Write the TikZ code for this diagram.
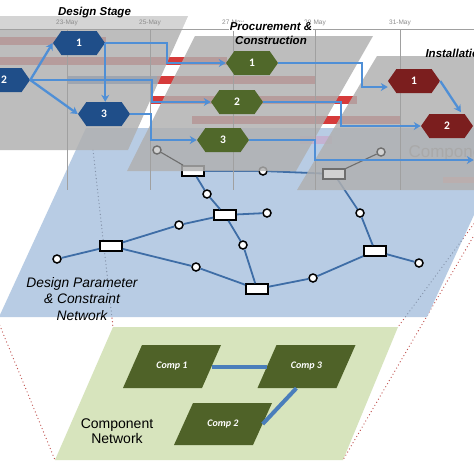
\documentclass[tikz,border=0pt]{standalone}
\usepackage{fontspec}
\setmainfont{Liberation Sans}
\newfontfamily\calfont{Carlito}
\usetikzlibrary{shapes.symbols,arrows.meta,calc}
\definecolor{dsblue}{HTML}{1F4E89}
\definecolor{pcgreen}{HTML}{50682A}
\definecolor{inred}{HTML}{7B1E1E}
\definecolor{arrblue}{HTML}{4F8FD6}
\definecolor{netblue}{HTML}{3E6DA6}
\definecolor{planeblue}{HTML}{B8CCE4}
\definecolor{planegreen}{HTML}{D7E4BD}
\definecolor{compgreen}{HTML}{4F6228}
\definecolor{compline}{HTML}{4A7EBB}
\definecolor{dotred}{HTML}{C0504D}
\definecolor{dotgray}{HTML}{8391A8}
\definecolor{barred}{HTML}{D63B3B}
\definecolor{barblue}{HTML}{4A72B0}
\definecolor{barlav}{HTML}{C4B2D2}
\definecolor{planegray}{HTML}{B0B0B0}
\definecolor{gridgray}{HTML}{A0A0A0}
\definecolor{dategray}{HTML}{8C8C8C}
\definecolor{ghostgray}{HTML}{A9A9A9}
\definecolor{nodegray}{HTML}{6E6E6E}
\definecolor{nodefill}{HTML}{D2D2D2}
\tikzset{
  hexa/.style={shape=signal, signal to=east and west, signal pointer angle=110,
    minimum width=52pt, minimum height=24pt, inner sep=0pt, text=white,
    font=\calfont\bfseries\fontsize{11.5}{12}\selectfont},
  hexd/.style={hexa, fill=dsblue},
  hexp/.style={hexa, fill=pcgreen},
  hexi/.style={hexa, fill=inred},
  flow/.style={draw=arrblue, line width=2.3pt, -{Stealth[length=7pt,width=8pt]}},
  netedge/.style={draw=netblue, line width=1.8pt},
  ghostedge/.style={draw=nodegray, line width=1.1pt},
  netrect/.style={draw=black, line width=1.6pt, fill=white, minimum width=22pt, minimum height=10pt, inner sep=0pt},
  netcirc/.style={circle, draw=black, line width=1.5pt, fill=white, minimum size=8pt, inner sep=0pt},
  ghostrect/.style={draw=nodegray, line width=1.3pt, fill=nodefill, minimum width=22pt, minimum height=10pt, inner sep=0pt},
  ghostcirc/.style={circle, draw=nodegray, line width=1.3pt, fill=nodefill, minimum size=8pt, inner sep=0pt},
  complbl/.style={rectangle, minimum width=79pt, minimum height=43pt, inner sep=0pt, text=white,
    font=\calfont\bfseries\itshape\fontsize{10}{11}\selectfont},
  compfill/.style={fill=compgreen},
  compedge/.style={draw=compline, line width=4pt},
  projdots/.style={draw=dotred, line width=1.3pt, line cap=round, dash pattern=on 0pt off 3.6pt},
  planelabel/.style={font=\bfseries\itshape\fontsize{11.5}{13}\selectfont, anchor=base},
  netlabel/.style={font=\itshape\fontsize{13.8}{15}\selectfont, anchor=base},
  complabel/.style={font=\fontsize{14}{15}\selectfont, anchor=base},
  datelabel/.style={font=\fontsize{6.5}{7}\selectfont, text=dategray},
  grayplane/.style={fill=planegray, opacity=0.83},
}
\begin{document}
\begin{tikzpicture}[x=1pt,y=-1pt]
\useasboundingbox (0,0) rectangle (474,474);
\fill[white] (0,0) rectangle (474,474);

% ---------- component network plane ----------
\fill[planegreen] (55,460) -- (343,460) -- (398,327) -- (113,327) -- cycle;
\fill[compfill] (123,388) -- (202,388) -- (221,345) -- (142,345) -- cycle;
\fill[compfill] (257.5,388) -- (336.5,388) -- (355.5,345) -- (276.5,345) -- cycle;
\fill[compfill] (174,445) -- (253,445) -- (272,403) -- (193,403) -- cycle;
\node[complbl] (comp1) at (172,366.5) {Comp 1};
\node[complbl] (comp3) at (306.5,366.5) {Comp 3};
\node[complbl, minimum height=42pt] (comp2) at (223,424) {Comp 2};
\draw[compedge] (comp1.east) -- (comp3.west);
\draw[compedge] (comp3.245) -- (comp2.east);
\node[complabel] (cnet1) at (117,428) {Component};
\node[complabel] (cnet2) at (117,443) {Network};

% ---------- projection lines ----------
\draw[projdots] (-18,282) -- (55,460);
\draw[projdots] (93,150) -- (113,327);
\draw[projdots] (476,221) -- (398,327);
\draw[projdots] (480,225) -- (343,460);

% ---------- design parameter plane ----------
\fill[planeblue] (-1,317) -- (427,317) -- (514,128) -- (86,128) -- cycle;
\begin{scope}
  \clip (-1,317) -- (427,317) -- (514,128) -- (86,128) -- cycle;
  \draw[projdots, draw=dotgray] (93,150) -- (113,327);
  \draw[projdots, draw=dotgray] (476,221) -- (398,327);
\end{scope}

% network nodes
\node[netrect] (r1) at (193,171) {};
\node[netrect] (r2) at (225,215) {};
\node[netrect] (r3) at (111,246) {};
\node[netrect] (r4) at (257,289) {};
\node[netrect] (r5) at (375,251) {};
\node[netrect] (r6) at (334,174) {};
\node[netcirc] (c1) at (207,194) {};
\node[netcirc] (c2) at (267,213) {};
\node[netcirc] (c3) at (179,225) {};
\node[netcirc] (c4) at (243,245) {};
\node[netcirc] (c5) at (57,259) {};
\node[netcirc] (c6) at (196,267) {};
\node[netcirc] (c7) at (313,278) {};
\node[netcirc] (c8) at (360,213) {};
\node[netcirc] (c9) at (419,263) {};
\node[netcirc] (c10) at (263,171) {};
\node[netcirc] (c11) at (157,150) {};
\node[netcirc] (c12) at (381,152) {};
\draw[netedge] (r1) -- (c1) -- (r2);
\draw[netedge] (r2) -- (c2);
\draw[netedge] (r2) -- (c3) -- (r3);
\draw[netedge] (r2) -- (c4) -- (r4);
\draw[netedge] (r3) -- (c5);
\draw[netedge] (r3) -- (c6) -- (r4);
\draw[netedge] (r4) -- (c7) -- (r5);
\draw[netedge] (r5) -- (c9);
\draw[netedge] (r5) -- (c8) -- (r6);
\draw[netedge] (r1) -- (c10) -- (r6);
\node[netlabel] (dpn1) at (82,287) {Design Parameter};
\node[netlabel] (dpn2) at (82,303) {\& Constraint};
\node[netlabel] (dpn3) at (82,320) {Network};

% ---------- gantt bars (under translucent planes) ----------
\fill[barred] (0,37) rectangle (106,45);
\fill[barred] (0,57) rectangle (227,65);
\fill[barblue] (67,76) rectangle (157,84);
\fill[barred] (157,76) rectangle (315,84);
\fill[barred] (150,96) rectangle (357,104);
\fill[barred] (192,116) rectangle (400,124);
\fill[barlav] (300,136) rectangle (332,144);
\fill[barred!45] (443,177) rectangle (480,183);

% ---------- stage planes ----------
\fill[grayplane] (-5,16) -- (188,16) -- (128,150) -- (-5,150) -- cycle;
\fill[grayplane] (195,36) -- (373,36) -- (296,171) -- (127,171) -- cycle;
\fill[grayplane] (377,56) -- (480,56) -- (480,190) -- (297,190) -- cycle;
\fill[white, opacity=0.35] (-5,16) -- (188,16) -- (182.2,29) -- (-5,29) -- cycle;

% nodes seen through the stage planes
\draw[ghostedge] (c11) -- (r1);
\draw[ghostedge] (r6) -- (c12);
\node[ghostcirc] (g11) at (c11) {};
\node[ghostcirc] (g12) at (c12) {};
\node[ghostrect] (g6) at (r6) {};

% time axis
\draw[gridgray, line width=0.6pt] (0,29.5) -- (474,29.5);
\foreach \x in {67,150,233,315,400} \draw[gridgray, line width=0.6pt] (\x,29.5) -- (\x,190);
\node[datelabel] (dt1) at (67,23) {23-May};
\node[datelabel] (dt2) at (150,23) {25-May};
\node[datelabel] (dt3) at (233,23) {27-May};
\node[datelabel] (dt4) at (315,23) {29-May};
\node[datelabel] (dt5) at (400,23) {31-May};
\node[anchor=base west, font=\fontsize{17}{17}\selectfont, text=ghostgray] (ghost) at (405,157) {Component};

% ---------- activity hexagons ----------
\node[hexd] (d1) at (79,43) {1};
\node[hexd] (d2) at (4,80) {2};
\node[hexd] (d3) at (104,114) {3};
\node[hexp] (p1) at (252,63) {1};
\node[hexp] (p2) at (237,102) {2};
\node[hexp] (p3) at (223,140) {3};
\node[hexi] (i1) at (414,81) {1};
\node[hexi] (i2) at (447,126) {2};
\node[hexi] (i3) at (500,160) {3};

% ---------- precedence arrows ----------
\draw[flow] (d2.east) -- (d1.west);
\draw[flow] (d2.east) -- (d3.west);
\draw[flow] (d1.east) -- (d1.east |- d3.north);
\draw[flow] (d1.east) -- ++(62,0) |- (p1.west);
\draw[flow] (d2.east) -- ++(122,0) |- (p2.west);
\draw[flow] (d3.east) -- ++(21,0) |- (p3.west);
\draw[flow] (p1.east) -- ++(84,0) |- ($(i1.west)+(0,6)$);
\draw[flow] (p2.east) -- ++(78,0) |- (i2.west);
\draw[flow] (p3.east) -- ++(66,0) |- (i3.west);
\draw[flow, shorten >=2pt] (i1.east) -- ($(i2.north)+(15,0)$);

% ---------- stage labels ----------
\node[planelabel] (lblD) at (94.5,15) {Design Stage};
\node[planelabel, fill=white, inner sep=0.5pt] (lblP1) at (271,30) {Procurement \&};
\node[planelabel] (lblP2) at (271,44) {Construction};
\node[planelabel, anchor=base west] (lblI) at (422,57) {Installation};
\end{tikzpicture}
\end{document}
